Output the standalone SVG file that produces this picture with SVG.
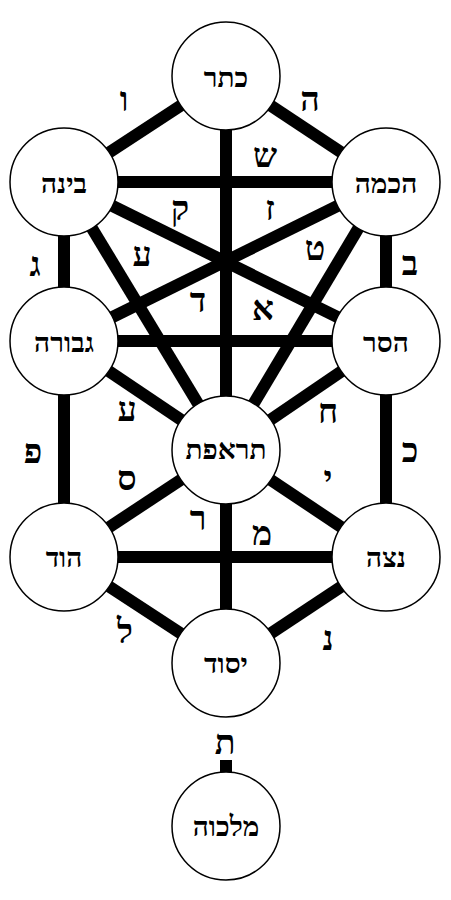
<svg xmlns="http://www.w3.org/2000/svg" width="451" height="900" viewBox="0 0 451 900">
<style>
.c{stroke:#000;stroke-width:12;fill:none}
.n{fill:#fff;stroke:#000;stroke-width:1.5}
.t{font-family:"Liberation Serif","DejaVu Sans",serif;font-weight:bold;font-size:28px;text-anchor:middle;fill:#000}
.l{font-family:"Liberation Serif","DejaVu Sans",serif;font-weight:bold;font-size:34px;text-anchor:middle;fill:#000}
</style>
<rect width="451" height="900" fill="#fff"/>
<g id="connectors">
<line class="c" x1="226" y1="76" x2="64" y2="182"/>
<line class="c" x1="226" y1="76" x2="386" y2="182"/>
<line class="c" x1="226" y1="76" x2="226" y2="663"/>
<line class="c" x1="226" y1="760" x2="226" y2="826"/>
<line class="c" x1="64" y1="182" x2="386" y2="182"/>
<line class="c" x1="64" y1="182" x2="64" y2="557"/>
<line class="c" x1="386" y1="182" x2="386" y2="557"/>
<line class="c" x1="64" y1="182" x2="226" y2="450"/>
<line class="c" x1="386" y1="182" x2="226" y2="450"/>
<line class="c" x1="64" y1="182" x2="386" y2="341"/>
<line class="c" x1="386" y1="182" x2="64" y2="341"/>
<line class="c" x1="64" y1="341" x2="386" y2="341"/>
<line class="c" x1="64" y1="341" x2="226" y2="450"/>
<line class="c" x1="386" y1="341" x2="226" y2="450"/>
<line class="c" x1="226" y1="450" x2="64" y2="557"/>
<line class="c" x1="226" y1="450" x2="386" y2="557"/>
<line class="c" x1="64" y1="557" x2="386" y2="557"/>
<line class="c" x1="64" y1="557" x2="226" y2="663"/>
<line class="c" x1="386" y1="557" x2="226" y2="663"/>
</g>
<g id="path-letters">
<text class="l" x="124" y="111">ו</text>
<text class="l" x="310" y="111">ה</text>
<text class="l" x="265" y="167">ש</text>
<text class="l" x="180" y="220">ק</text>
<text class="l" x="270" y="220">ז</text>
<text class="l" x="142" y="266">ע</text>
<text class="l" x="315" y="260">ט</text>
<text class="l" x="198" y="312">ד</text>
<text class="l" x="263" y="320">א</text>
<text class="l" x="35" y="276">ג</text>
<text class="l" x="410" y="275">ב</text>
<text class="l" x="127" y="421">ע</text>
<text class="l" x="328" y="423">ח</text>
<text class="l" x="33" y="463">פ</text>
<text class="l" x="410" y="462">כ</text>
<text class="l" x="127" y="490">ס</text>
<text class="l" x="328" y="490">י</text>
<text class="l" x="198" y="530">ר</text>
<text class="l" x="262" y="545">מ</text>
<text class="l" x="125" y="643">ל</text>
<text class="l" x="328" y="650">נ</text>
<text class="l" x="225" y="754">ת</text>
</g>
<g id="keter"><circle class="n" cx="226" cy="76" r="54"/><text class="t" x="226" y="87">כתר</text></g>
<g id="binah"><circle class="n" cx="64" cy="182" r="54"/><text class="t" x="64" y="193">בינה</text></g>
<g id="chokhmah"><circle class="n" cx="386" cy="182" r="54"/><text class="t" x="386" y="193">הכמה</text></g>
<g id="gevurah"><circle class="n" cx="64" cy="341" r="54"/><text class="t" x="64" y="352">גבורה</text></g>
<g id="chesed"><circle class="n" cx="386" cy="341" r="54"/><text class="t" x="386" y="352">הסר</text></g>
<g id="tiferet"><circle class="n" cx="226" cy="450" r="54"/><text class="t" x="226" y="459">תראפת</text></g>
<g id="hod"><circle class="n" cx="64" cy="557" r="54"/><text class="t" x="64" y="567">הוד</text></g>
<g id="netzach"><circle class="n" cx="386" cy="557" r="54"/><text class="t" x="386" y="567">נצה</text></g>
<g id="yesod"><circle class="n" cx="226" cy="663" r="54"/><text class="t" x="226" y="673">יסוד</text></g>
<g id="malkhut"><circle class="n" cx="226" cy="826" r="54"/><text class="t" x="226" y="836">מלכוה</text></g>
</svg>
